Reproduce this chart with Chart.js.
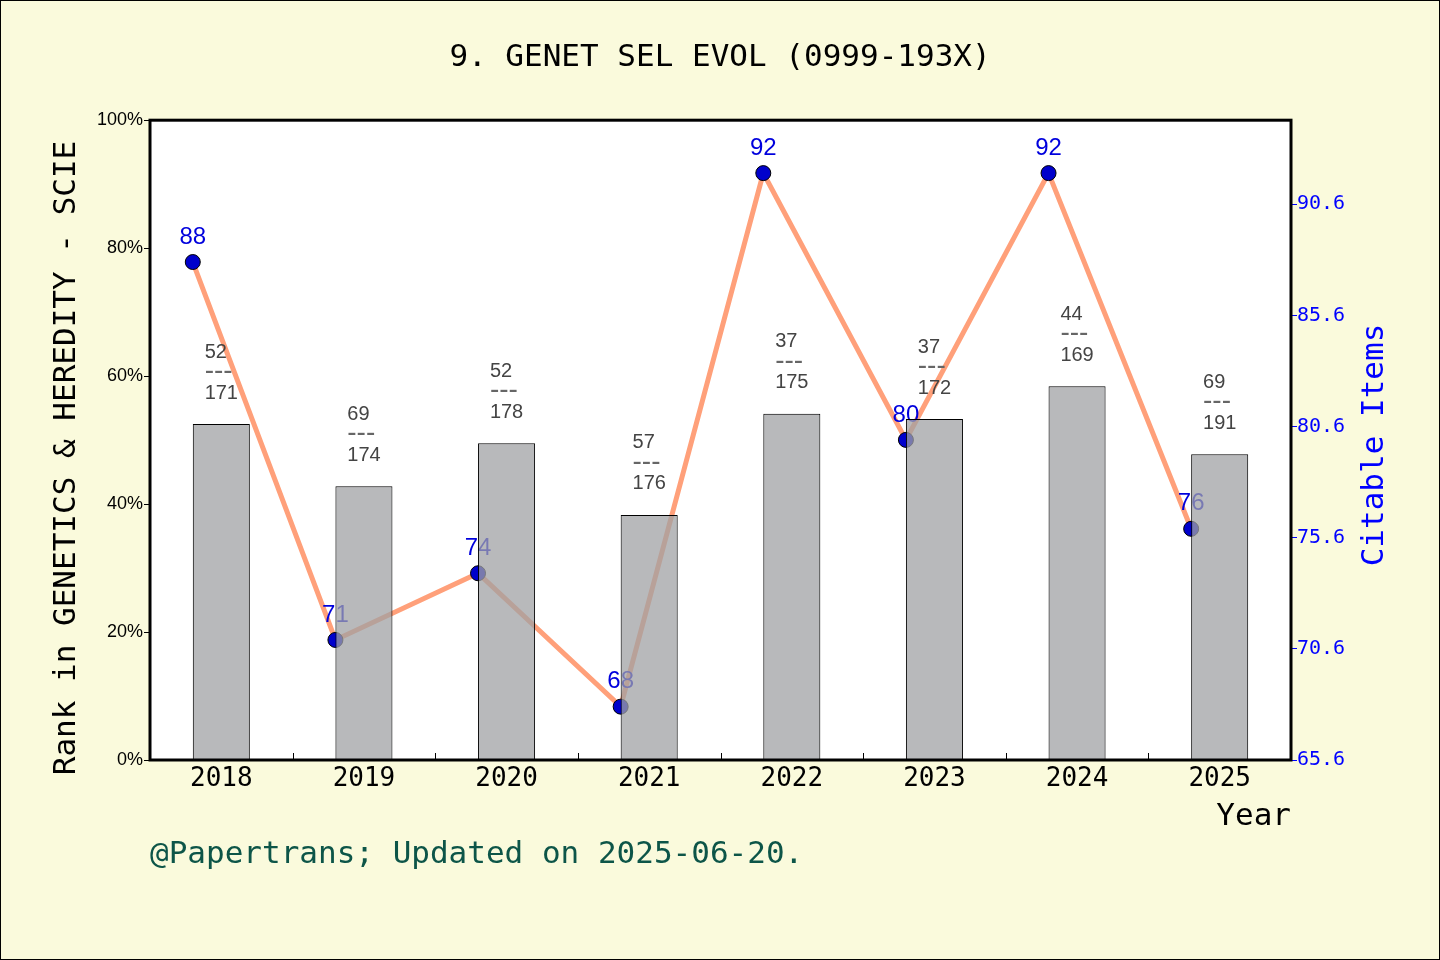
<!DOCTYPE html>
<html>
<head>
<meta charset="utf-8">
<script src="https://cdn.jsdelivr.net/npm/chart.js@4.4.1/dist/chart.umd.min.js"></script>
<style>
  body { margin: 0; background: #fafadc; }
  #wrap { width: 1440px; height: 960px; }
</style>
</head>
<body>
<div id="wrap"><canvas id="rankChart" width="1440" height="960"></canvas></div>
<script>
// Data
const years = ['2018', '2019', '2020', '2021', '2022', '2023', '2024', '2025'];
const rankPercent = [52.5, 42.8, 49.5, 38.3, 54.1, 53.3, 58.4, 47.8];
const rankPosition = [52, 69, 52, 57, 37, 37, 44, 69];
const rankTotal = [171, 174, 178, 176, 175, 172, 169, 191];
const citableItems = [88, 71, 74, 68, 92, 80, 92, 76];
const citableTicks = [65.6, 70.6, 75.6, 80.6, 85.6, 90.6];

const MONO = "'DejaVu Sans Mono', monospace";
const SANS = "'Liberation Sans', Arial, sans-serif";

// line points sit on the left edge of each bar
const citablePoints = citableItems.map((v, i) => ({ x: i - 0.2, y: v }));

// Labels over the line points, drawn before the bars so the bars cover them
const pointLabels = {
    id: 'pointLabels',
    afterDatasetDraw(chart, args) {
        if (args.meta.type !== 'line') return;
        const ctx = chart.ctx;
        ctx.save();
        ctx.font = '24px ' + SANS;
        ctx.fillStyle = '#0000dd';
        ctx.textAlign = 'center';
        ctx.textBaseline = 'middle';
        args.meta.data.forEach((pt, i) => {
            ctx.fillText(String(citableItems[i]), pt.x, pt.y - 25);
        });
        ctx.restore();
    }
};

// Background, frame, extra texts
const decorations = {
    id: 'decorations',
    beforeDraw(chart) {
        const { ctx, chartArea: a } = chart;
        ctx.save();
        ctx.fillStyle = '#fafadc';
        ctx.fillRect(0, 0, chart.width, chart.height);
        ctx.fillStyle = '#ffffff';
        ctx.fillRect(a.left, a.top, a.right - a.left, a.bottom - a.top);
        ctx.restore();
    },
    afterDatasetsDraw(chart) {
        const ctx = chart.ctx;
        const barMeta = chart.getDatasetMeta(0);
        ctx.save();
        ctx.textBaseline = 'middle';
        ctx.textAlign = 'left';
        barMeta.data.forEach((bar, i) => {
            ctx.font = '20px ' + SANS;
            ctx.fillStyle = '#444444';
            const top = String(rankPosition[i]);
            const bottom = String(rankTotal[i]);
            const w = Math.max(ctx.measureText(top).width, ctx.measureText(bottom).width);
            const x0 = bar.x - w / 2;
            ctx.fillText(top, x0, bar.y - 72);
            ctx.fillText(bottom, x0, bar.y - 31);
            ctx.font = '28px ' + SANS;
            ctx.fillStyle = '#666666';
            ctx.fillText('---', x0, bar.y - 53);
        });
        ctx.restore();
    },
    afterDraw(chart) {
        const { ctx, chartArea: a } = chart;
        ctx.save();
        // plot frame
        ctx.strokeStyle = '#000';
        ctx.lineWidth = 3;
        ctx.strokeRect(a.left, a.top, a.right - a.left, a.bottom - a.top);

        // small ticks between categories
        const step = (a.right - a.left) / years.length;
        ctx.lineWidth = 1;
        for (let k = 1; k < years.length; k++) {
            const x = Math.round(a.left + k * step) + 0.5;
            ctx.beginPath();
            ctx.moveTo(x, a.bottom);
            ctx.lineTo(x, a.bottom - 7);
            ctx.stroke();
        }

        // left axis title
        ctx.font = '31px ' + MONO;
        ctx.fillStyle = '#000';
        ctx.textAlign = 'center';
        ctx.textBaseline = 'middle';
        ctx.save();
        ctx.translate(67, 458);
        ctx.rotate(-Math.PI / 2);
        ctx.fillText('Rank in GENETICS & HEREDITY - SCIE', 0, 0);
        ctx.restore();

        // right axis title
        ctx.save();
        ctx.fillStyle = '#0000ff';
        ctx.translate(1375, 445);
        ctx.rotate(-Math.PI / 2);
        ctx.fillText('Citable Items', 0, 0);
        ctx.restore();

        // x axis title
        ctx.textAlign = 'right';
        ctx.fillText('Year', a.right, 817);

        // footer
        ctx.textAlign = 'left';
        ctx.fillStyle = '#0d5548';
        ctx.fillText('@Papertrans; Updated on 2025-06-20.', a.left, 855);

        // outer border
        ctx.strokeStyle = '#000';
        ctx.lineWidth = 1;
        ctx.strokeRect(0.5, 0.5, chart.width - 1, chart.height - 1);
        ctx.restore();
    }
};

const ctxRank = document.getElementById('rankChart').getContext('2d');
const rankChart = new Chart(ctxRank, {
    data: {
        labels: years,
        datasets: [{
            type: 'bar',
            label: 'Rank',
            data: rankPercent,
            backgroundColor: 'rgba(160, 161, 164, 0.75)',
            borderColor: '#000000',
            borderWidth: 1,
            barPercentage: 0.4,
            categoryPercentage: 1.0,
            grouped: false,
            xAxisID: 'x',
            yAxisID: 'y',
            order: 1
        }, {
            type: 'line',
            label: 'Citable Items',
            data: citablePoints,
            borderColor: 'rgb(255, 160, 122)',
            borderWidth: 5,
            pointRadius: 7.5,
            pointBackgroundColor: '#0000cc',
            pointBorderColor: '#000000',
            pointBorderWidth: 1,
            tension: 0,
            xAxisID: 'xl',
            yAxisID: 'y2',
            order: 2
        }]
    },
    options: {
        responsive: false,
        devicePixelRatio: 1,
        animation: false,
        layout: { padding: 0 },
        plugins: {
            legend: { display: false },
            tooltip: { enabled: false },
            title: {
                display: true,
                text: '9. GENET SEL EVOL (0999-193X)',
                color: '#000',
                font: { family: MONO, size: 31, weight: 'normal' },
                padding: { top: 39, bottom: 44 }
            }
        },
        scales: {
            x: {
                type: 'category',
                offset: true,
                grid: { display: false, drawTicks: false },
                border: { display: false },
                ticks: {
                    color: '#000',
                    font: { family: MONO, size: 26 },
                    padding: 4,
                    maxRotation: 0
                },
                afterFit(scale) { scale.height = 200; }
            },
            xl: {
                type: 'linear',
                display: false,
                min: -0.5,
                max: 7.5
            },
            y: {
                position: 'left',
                min: 0,
                max: 100,
                grid: { drawOnChartArea: false, tickLength: 6, color: '#000' },
                border: { display: false },
                ticks: {
                    stepSize: 20,
                    color: '#000',
                    font: { family: SANS, size: 18 },
                    padding: 1,
                    callback: v => v + '%'
                },
                afterFit(scale) { scale.width = 150; }
            },
            y2: {
                position: 'right',
                min: 65.6,
                max: 94.38,
                grid: { drawOnChartArea: false, tickLength: 6, color: '#0000ff' },
                border: { display: false },
                afterBuildTicks(scale) {
                    scale.ticks = citableTicks.map(v => ({ value: v }));
                },
                ticks: {
                    color: '#0000ff',
                    font: { family: MONO, size: 20 },
                    padding: 0,
                    callback: v => Number(v).toFixed(1)
                },
                afterFit(scale) { scale.width = 149; }
            }
        }
    },
    plugins: [pointLabels, decorations]
});
</script>
</body>
</html>
